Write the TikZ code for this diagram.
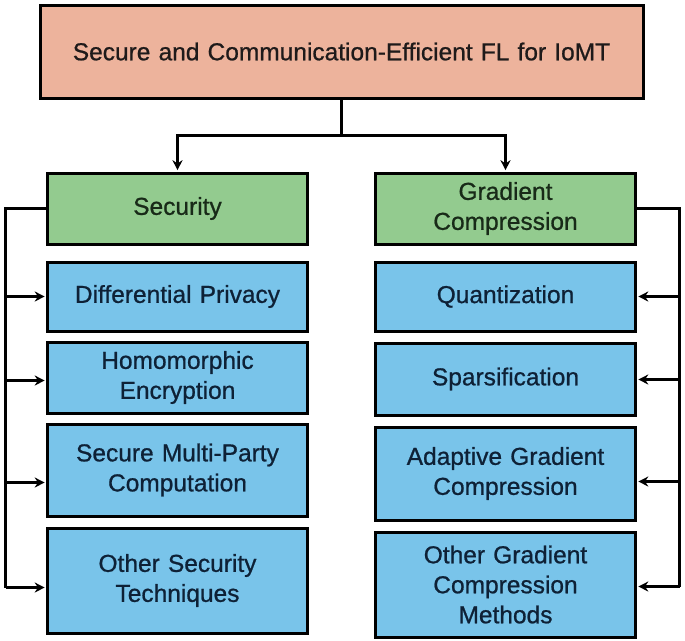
\documentclass[tikz,border=0pt]{standalone}
\usepackage{fontspec}
\setmainfont[FakeBold=0.8]{Liberation Sans}
\usetikzlibrary{arrows.meta}
\definecolor{salmon}{HTML}{EDB39C}
\definecolor{boxgreen}{HTML}{93CB8F}
\definecolor{boxblue}{HTML}{79C4EA}
\definecolor{txtdark}{HTML}{1E1A1A}
\definecolor{txtgreen}{HTML}{182A18}
\definecolor{txtblue}{HTML}{0E2136}
\tikzset{
  box/.style={draw=black, line width=3pt, inner sep=0pt, align=center,
    font=\fontsize{24.5}{30}\selectfont, text width=255pt},
  topbox/.style={box, fill=salmon, text=txtdark, minimum width=603pt, minimum height=93pt, text width=595pt},
  catbox/.style={box, fill=boxgreen, text=txtgreen, minimum width=260pt, minimum height=71pt},
  itembox/.style={box, fill=boxblue, text=txtblue, minimum width=260pt},
  conn/.style={draw=black, line width=3pt},
  arr/.style={draw=black, line width=3pt, shorten >=1.3pt, -{Stealth[length=10pt,width=10pt]}}
}
\begin{document}
\begin{tikzpicture}[x=1pt,y=-1pt]
\useasboundingbox (0,0) rectangle (685,640);
\node[topbox] (top) at (341.5,51.5) {Secure and Communication-Efficient FL for IoMT};
\node[catbox] (sec) at (177.5,208.5) {Security};
\node[catbox] (grad) at (505.5,208.5) {Gradient\\Compression};
\node[itembox, minimum height=69pt] (dp) at (177.5,296.5) {Differential Privacy};
\node[itembox, minimum height=71pt] (he) at (177.5,377.5) {Homomorphic\\Encryption};
\node[itembox, minimum height=92pt] (smpc) at (177.5,470) {Secure Multi-Party\\Computation};
\node[itembox, minimum height=105pt] (ost) at (177.5,580.5) {Other Security\\Techniques};
\node[itembox, minimum height=69pt] (q) at (505.5,296.5) {Quantization};
\node[itembox, minimum height=72pt] (sp) at (505.5,379) {Sparsification};
\node[itembox, minimum height=93pt] (agc) at (505.5,473.5) {Adaptive Gradient\\Compression};
\node[itembox, minimum height=105pt] (ogcm) at (505.5,584.5) {Other Gradient\\Compression\\Methods};
% top split
\draw[conn] (top.south) -- ++(0,35.5) coordinate (j);
\draw[arr] (j) -| (sec.north);
\draw[arr] (j) -| (grad.north);
% arrow targets
\coordinate (heT) at ([yshift=-3pt]he.west);
\coordinate (smpcT) at ([yshift=-12.5pt]smpc.west);
\coordinate (ostT) at ([yshift=-7pt]ost.west);
\coordinate (spT) at ([yshift=-0.5pt]sp.east);
\coordinate (agcT) at ([yshift=-8pt]agc.east);
\coordinate (ogcmT) at ([yshift=-2pt]ogcm.east);
% left bus
\coordinate (lb) at (5.5,208.5);
\draw[conn] (sec.west) -- (lb) -- (lb |- ostT);
\foreach \t in {dp.west, heT, smpcT, ostT}{
  \draw[arr] (lb |- \t) -- (\t);
}
% right bus
\coordinate (rb) at (679.5,208.5);
\draw[conn] (grad.east) -- (rb) -- (rb |- ogcmT);
\foreach \t in {q.east, spT, agcT, ogcmT}{
  \draw[arr] (rb |- \t) -- (\t);
}
\end{tikzpicture}
\end{document}
